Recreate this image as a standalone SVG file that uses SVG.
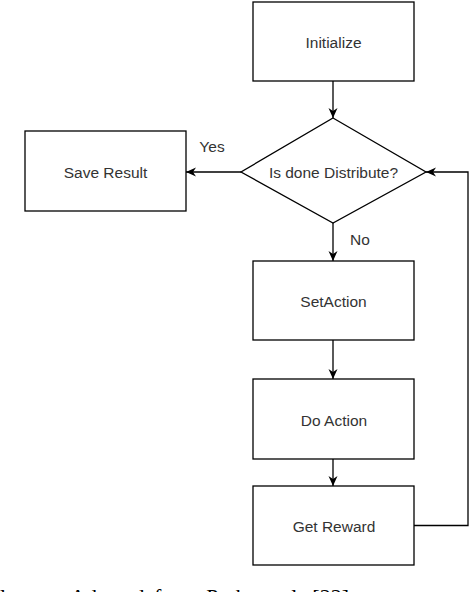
<svg xmlns="http://www.w3.org/2000/svg" width="474" height="592" viewBox="0 0 474 592">
  <style>
    .box { fill: #ffffff; stroke: #000000; stroke-width: 1.3; }
    .lbl { font-family: "Liberation Sans", Arial, sans-serif; font-size: 15.5px; fill: #333333; text-anchor: middle; dominant-baseline: central; }
    .edge { fill: none; stroke: #000000; stroke-width: 1.3; marker-end: url(#arrow); }
    .cap { font-family: "Liberation Serif", "Times New Roman", serif; font-size: 22px; fill: #000000; }
  </style>
  <defs>
    <marker id="arrow" viewBox="0 0 10 10" refX="10" refY="5" markerWidth="10" markerHeight="10" markerUnits="userSpaceOnUse" orient="auto">
      <path d="M0,0.5 L10,5 L0,9.5 L3,5 z" fill="#000000"/>
    </marker>
  </defs>
  <rect width="474" height="592" fill="#ffffff"/>

  <g id="edges">
    <path class="edge" d="M333,81 L333,118"/>
    <path class="edge" d="M241,172 L186,172"/>
    <path class="edge" d="M333,223 L333,261"/>
    <path class="edge" d="M333,340 L333,379"/>
    <path class="edge" d="M333,459 L333,486"/>
    <path class="edge" d="M414,525.5 L468,525.5 L468,172 L426,172"/>
    <text class="lbl" x="212" y="146">Yes</text>
    <text class="lbl" x="360" y="239">No</text>
  </g>

  <g id="initialize">
    <rect class="box" x="253" y="2" width="161" height="79"/>
    <text class="lbl" x="333.5" y="42">Initialize</text>
  </g>

  <g id="decision">
    <polygon class="box" points="333,118 426,172 333,223 241,172"/>
    <text class="lbl" x="333.5" y="172">Is done Distribute?</text>
  </g>

  <g id="save-result">
    <rect class="box" x="25" y="131" width="161" height="80"/>
    <text class="lbl" x="105.5" y="172">Save Result</text>
  </g>

  <g id="set-action">
    <rect class="box" x="253" y="261" width="161" height="79"/>
    <text class="lbl" x="333.5" y="301">SetAction</text>
  </g>

  <g id="do-action">
    <rect class="box" x="253" y="379" width="161" height="80"/>
    <text class="lbl" x="334" y="420">Do Action</text>
  </g>

  <g id="get-reward">
    <rect class="box" x="253" y="486" width="161" height="79"/>
    <text class="lbl" x="334" y="526">Get Reward</text>
  </g>

  <g id="caption">
    <text class="cap" x="0" y="604">l</text>
    <text class="cap" x="70" y="604" word-spacing="4">Adapted from Park et al. [22]</text>
  </g>
</svg>
